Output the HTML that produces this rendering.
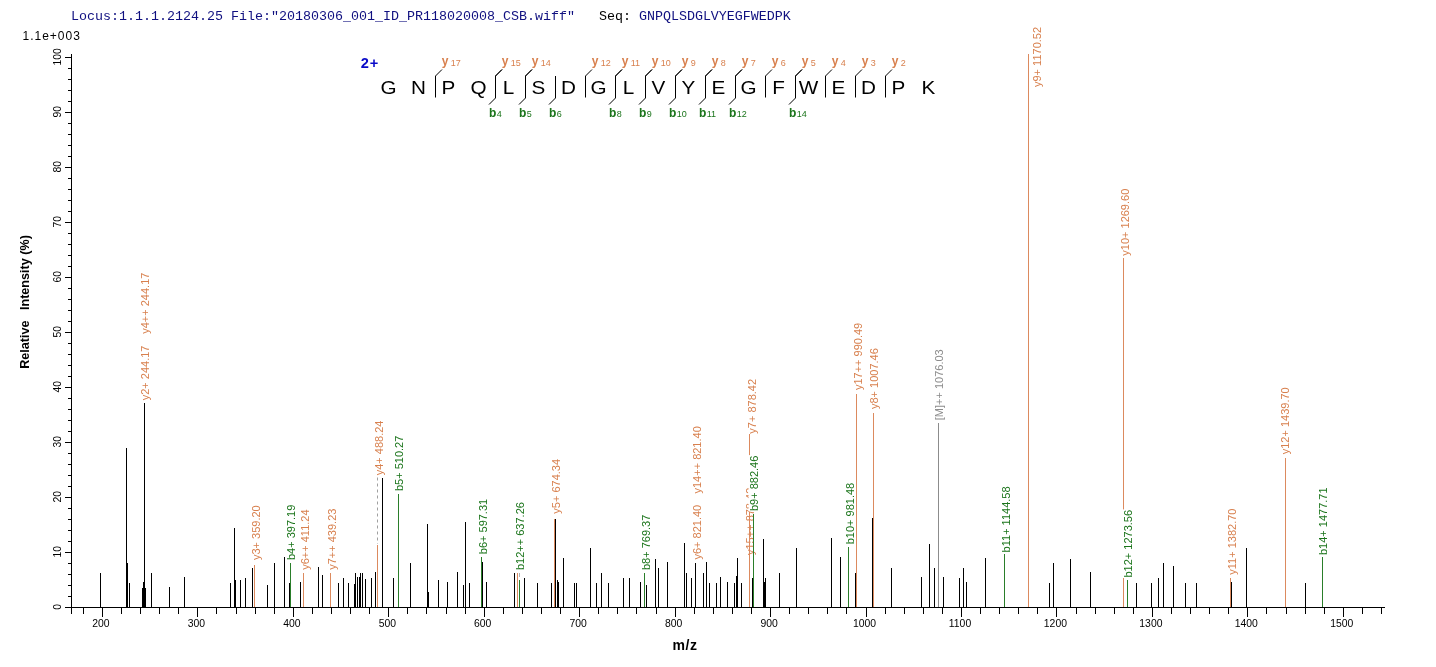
<!DOCTYPE html><html><head><meta charset="utf-8"><style>html,body{margin:0;padding:0;background:#fff;}svg{display:block;will-change:transform;}</style></head><body>
<svg width="1436" height="667" viewBox="0 0 1436 667" font-family="Liberation Sans, sans-serif">
<rect width="1436" height="667" fill="#fff"/>
<text x="71" y="19.5" font-family="Liberation Mono, monospace" font-size="13.333" fill="#101080" xml:space="preserve">Locus:1.1.1.2124.25 File:"20180306_001_ID_PR118020008_CSB.wiff"   <tspan fill="#000">Seq: </tspan>GNPQLSDGLVYEGFWEDPK</text>
<text x="22.5" y="39.6" font-size="12" letter-spacing="1" fill="#000">1.1e+003</text>
<text x="0" y="0" transform="translate(388.5,93.7) scale(1.15,1)" text-anchor="middle" font-size="18" fill="#000">G</text>
<text x="0" y="0" transform="translate(418.5,93.7) scale(1.15,1)" text-anchor="middle" font-size="18" fill="#000">N</text>
<text x="0" y="0" transform="translate(448.5,93.7) scale(1.15,1)" text-anchor="middle" font-size="18" fill="#000">P</text>
<text x="0" y="0" transform="translate(478.5,93.7) scale(1.15,1)" text-anchor="middle" font-size="18" fill="#000">Q</text>
<text x="0" y="0" transform="translate(508.5,93.7) scale(1.15,1)" text-anchor="middle" font-size="18" fill="#000">L</text>
<text x="0" y="0" transform="translate(538.5,93.7) scale(1.15,1)" text-anchor="middle" font-size="18" fill="#000">S</text>
<text x="0" y="0" transform="translate(568.5,93.7) scale(1.15,1)" text-anchor="middle" font-size="18" fill="#000">D</text>
<text x="0" y="0" transform="translate(598.5,93.7) scale(1.15,1)" text-anchor="middle" font-size="18" fill="#000">G</text>
<text x="0" y="0" transform="translate(628.5,93.7) scale(1.15,1)" text-anchor="middle" font-size="18" fill="#000">L</text>
<text x="0" y="0" transform="translate(658.5,93.7) scale(1.15,1)" text-anchor="middle" font-size="18" fill="#000">V</text>
<text x="0" y="0" transform="translate(688.5,93.7) scale(1.15,1)" text-anchor="middle" font-size="18" fill="#000">Y</text>
<text x="0" y="0" transform="translate(718.5,93.7) scale(1.15,1)" text-anchor="middle" font-size="18" fill="#000">E</text>
<text x="0" y="0" transform="translate(748.5,93.7) scale(1.15,1)" text-anchor="middle" font-size="18" fill="#000">G</text>
<text x="0" y="0" transform="translate(778.5,93.7) scale(1.15,1)" text-anchor="middle" font-size="18" fill="#000">F</text>
<text x="0" y="0" transform="translate(808.5,93.7) scale(1.15,1)" text-anchor="middle" font-size="18" fill="#000">W</text>
<text x="0" y="0" transform="translate(838.5,93.7) scale(1.15,1)" text-anchor="middle" font-size="18" fill="#000">E</text>
<text x="0" y="0" transform="translate(868.5,93.7) scale(1.15,1)" text-anchor="middle" font-size="18" fill="#000">D</text>
<text x="0" y="0" transform="translate(898.5,93.7) scale(1.15,1)" text-anchor="middle" font-size="18" fill="#000">P</text>
<text x="0" y="0" transform="translate(928.5,93.7) scale(1.15,1)" text-anchor="middle" font-size="18" fill="#000">K</text>
<path d="M435.5 97.5 V76 L442.0 69.5" fill="none" stroke="#000" stroke-width="1"/>
<text x="441.8" y="65.3" font-size="12" font-weight="bold" fill="#D8804E">y</text>
<text x="450.7" y="65.5" font-size="9" fill="#D8804E">17</text>
<path d="M495.5 97.5 V76 L502.0 69.5" fill="none" stroke="#000" stroke-width="1"/>
<text x="501.8" y="65.3" font-size="12" font-weight="bold" fill="#D8804E">y</text>
<text x="510.7" y="65.5" font-size="9" fill="#D8804E">15</text>
<path d="M525.5 97.5 V76 L532.0 69.5" fill="none" stroke="#000" stroke-width="1"/>
<text x="531.8" y="65.3" font-size="12" font-weight="bold" fill="#D8804E">y</text>
<text x="540.7" y="65.5" font-size="9" fill="#D8804E">14</text>
<path d="M585.5 97.5 V76 L592.0 69.5" fill="none" stroke="#000" stroke-width="1"/>
<text x="591.8" y="65.3" font-size="12" font-weight="bold" fill="#D8804E">y</text>
<text x="600.7" y="65.5" font-size="9" fill="#D8804E">12</text>
<path d="M615.5 97.5 V76 L622.0 69.5" fill="none" stroke="#000" stroke-width="1"/>
<text x="621.8" y="65.3" font-size="12" font-weight="bold" fill="#D8804E">y</text>
<text x="630.7" y="65.5" font-size="9" fill="#D8804E">11</text>
<path d="M645.5 97.5 V76 L652.0 69.5" fill="none" stroke="#000" stroke-width="1"/>
<text x="651.8" y="65.3" font-size="12" font-weight="bold" fill="#D8804E">y</text>
<text x="660.7" y="65.5" font-size="9" fill="#D8804E">10</text>
<path d="M675.5 97.5 V76 L682.0 69.5" fill="none" stroke="#000" stroke-width="1"/>
<text x="681.8" y="65.3" font-size="12" font-weight="bold" fill="#D8804E">y</text>
<text x="690.7" y="65.5" font-size="9" fill="#D8804E">9</text>
<path d="M705.5 97.5 V76 L712.0 69.5" fill="none" stroke="#000" stroke-width="1"/>
<text x="711.8" y="65.3" font-size="12" font-weight="bold" fill="#D8804E">y</text>
<text x="720.7" y="65.5" font-size="9" fill="#D8804E">8</text>
<path d="M735.5 97.5 V76 L742.0 69.5" fill="none" stroke="#000" stroke-width="1"/>
<text x="741.8" y="65.3" font-size="12" font-weight="bold" fill="#D8804E">y</text>
<text x="750.7" y="65.5" font-size="9" fill="#D8804E">7</text>
<path d="M765.5 97.5 V76 L772.0 69.5" fill="none" stroke="#000" stroke-width="1"/>
<text x="771.8" y="65.3" font-size="12" font-weight="bold" fill="#D8804E">y</text>
<text x="780.7" y="65.5" font-size="9" fill="#D8804E">6</text>
<path d="M795.5 97.5 V76 L802.0 69.5" fill="none" stroke="#000" stroke-width="1"/>
<text x="801.8" y="65.3" font-size="12" font-weight="bold" fill="#D8804E">y</text>
<text x="810.7" y="65.5" font-size="9" fill="#D8804E">5</text>
<path d="M825.5 97.5 V76 L832.0 69.5" fill="none" stroke="#000" stroke-width="1"/>
<text x="831.8" y="65.3" font-size="12" font-weight="bold" fill="#D8804E">y</text>
<text x="840.7" y="65.5" font-size="9" fill="#D8804E">4</text>
<path d="M855.5 97.5 V76 L862.0 69.5" fill="none" stroke="#000" stroke-width="1"/>
<text x="861.8" y="65.3" font-size="12" font-weight="bold" fill="#D8804E">y</text>
<text x="870.7" y="65.5" font-size="9" fill="#D8804E">3</text>
<path d="M885.5 97.5 V76 L892.0 69.5" fill="none" stroke="#000" stroke-width="1"/>
<text x="891.8" y="65.3" font-size="12" font-weight="bold" fill="#D8804E">y</text>
<text x="900.7" y="65.5" font-size="9" fill="#D8804E">2</text>
<path d="M502.0 69.5 L495.5 76 V98 L489.0 104.5" fill="none" stroke="#000" stroke-width="1"/>
<text x="488.9" y="116.8" font-size="12" font-weight="bold" fill="#1A741A">b</text>
<text x="496.7" y="116.5" font-size="9" fill="#1A741A">4</text>
<path d="M532.0 69.5 L525.5 76 V98 L519.0 104.5" fill="none" stroke="#000" stroke-width="1"/>
<text x="518.9" y="116.8" font-size="12" font-weight="bold" fill="#1A741A">b</text>
<text x="526.7" y="116.5" font-size="9" fill="#1A741A">5</text>
<path d="M555.5 76 V98 L549.0 104.5" fill="none" stroke="#000" stroke-width="1"/>
<text x="548.9" y="116.8" font-size="12" font-weight="bold" fill="#1A741A">b</text>
<text x="556.7" y="116.5" font-size="9" fill="#1A741A">6</text>
<path d="M622.0 69.5 L615.5 76 V98 L609.0 104.5" fill="none" stroke="#000" stroke-width="1"/>
<text x="608.9" y="116.8" font-size="12" font-weight="bold" fill="#1A741A">b</text>
<text x="616.7" y="116.5" font-size="9" fill="#1A741A">8</text>
<path d="M652.0 69.5 L645.5 76 V98 L639.0 104.5" fill="none" stroke="#000" stroke-width="1"/>
<text x="638.9" y="116.8" font-size="12" font-weight="bold" fill="#1A741A">b</text>
<text x="646.7" y="116.5" font-size="9" fill="#1A741A">9</text>
<path d="M682.0 69.5 L675.5 76 V98 L669.0 104.5" fill="none" stroke="#000" stroke-width="1"/>
<text x="668.9" y="116.8" font-size="12" font-weight="bold" fill="#1A741A">b</text>
<text x="676.7" y="116.5" font-size="9" fill="#1A741A">10</text>
<path d="M712.0 69.5 L705.5 76 V98 L699.0 104.5" fill="none" stroke="#000" stroke-width="1"/>
<text x="698.9" y="116.8" font-size="12" font-weight="bold" fill="#1A741A">b</text>
<text x="706.7" y="116.5" font-size="9" fill="#1A741A">11</text>
<path d="M742.0 69.5 L735.5 76 V98 L729.0 104.5" fill="none" stroke="#000" stroke-width="1"/>
<text x="728.9" y="116.8" font-size="12" font-weight="bold" fill="#1A741A">b</text>
<text x="736.7" y="116.5" font-size="9" fill="#1A741A">12</text>
<path d="M802.0 69.5 L795.5 76 V98 L789.0 104.5" fill="none" stroke="#000" stroke-width="1"/>
<text x="788.9" y="116.8" font-size="12" font-weight="bold" fill="#1A741A">b</text>
<text x="796.7" y="116.5" font-size="9" fill="#1A741A">14</text>
<text x="360.8" y="67.8" font-size="14.6" font-weight="bold" letter-spacing="0.8" fill="#0A0AC8">2+</text>
<rect x="65" y="607" width="1320" height="1" fill="#000"/>
<rect x="71" y="54" width="1" height="560" fill="#000"/>
<rect x="65" y="607" width="6" height="1" fill="#000"/>
<rect x="68" y="596" width="3" height="1" fill="#000"/>
<rect x="68" y="585" width="3" height="1" fill="#000"/>
<rect x="68" y="574" width="3" height="1" fill="#000"/>
<rect x="68" y="563" width="3" height="1" fill="#000"/>
<rect x="65" y="552" width="6" height="1" fill="#000"/>
<rect x="68" y="541" width="3" height="1" fill="#000"/>
<rect x="68" y="530" width="3" height="1" fill="#000"/>
<rect x="68" y="519" width="3" height="1" fill="#000"/>
<rect x="68" y="508" width="3" height="1" fill="#000"/>
<rect x="65" y="497" width="6" height="1" fill="#000"/>
<rect x="68" y="486" width="3" height="1" fill="#000"/>
<rect x="68" y="475" width="3" height="1" fill="#000"/>
<rect x="68" y="464" width="3" height="1" fill="#000"/>
<rect x="68" y="453" width="3" height="1" fill="#000"/>
<rect x="65" y="442" width="6" height="1" fill="#000"/>
<rect x="68" y="431" width="3" height="1" fill="#000"/>
<rect x="68" y="420" width="3" height="1" fill="#000"/>
<rect x="68" y="409" width="3" height="1" fill="#000"/>
<rect x="68" y="398" width="3" height="1" fill="#000"/>
<rect x="65" y="387" width="6" height="1" fill="#000"/>
<rect x="68" y="376" width="3" height="1" fill="#000"/>
<rect x="68" y="365" width="3" height="1" fill="#000"/>
<rect x="68" y="354" width="3" height="1" fill="#000"/>
<rect x="68" y="343" width="3" height="1" fill="#000"/>
<rect x="65" y="332" width="6" height="1" fill="#000"/>
<rect x="68" y="321" width="3" height="1" fill="#000"/>
<rect x="68" y="310" width="3" height="1" fill="#000"/>
<rect x="68" y="299" width="3" height="1" fill="#000"/>
<rect x="68" y="288" width="3" height="1" fill="#000"/>
<rect x="65" y="277" width="6" height="1" fill="#000"/>
<rect x="68" y="266" width="3" height="1" fill="#000"/>
<rect x="68" y="255" width="3" height="1" fill="#000"/>
<rect x="68" y="244" width="3" height="1" fill="#000"/>
<rect x="68" y="233" width="3" height="1" fill="#000"/>
<rect x="65" y="222" width="6" height="1" fill="#000"/>
<rect x="68" y="211" width="3" height="1" fill="#000"/>
<rect x="68" y="200" width="3" height="1" fill="#000"/>
<rect x="68" y="189" width="3" height="1" fill="#000"/>
<rect x="68" y="178" width="3" height="1" fill="#000"/>
<rect x="65" y="167" width="6" height="1" fill="#000"/>
<rect x="68" y="156" width="3" height="1" fill="#000"/>
<rect x="68" y="145" width="3" height="1" fill="#000"/>
<rect x="68" y="134" width="3" height="1" fill="#000"/>
<rect x="68" y="123" width="3" height="1" fill="#000"/>
<rect x="65" y="112" width="6" height="1" fill="#000"/>
<rect x="68" y="101" width="3" height="1" fill="#000"/>
<rect x="68" y="90" width="3" height="1" fill="#000"/>
<rect x="68" y="79" width="3" height="1" fill="#000"/>
<rect x="68" y="68" width="3" height="1" fill="#000"/>
<rect x="65" y="57" width="6" height="1" fill="#000"/>
<rect x="83" y="608" width="1" height="6" fill="#000"/>
<rect x="102" y="608" width="1" height="9" fill="#000"/>
<rect x="121" y="608" width="1" height="6" fill="#000"/>
<rect x="140" y="608" width="1" height="6" fill="#000"/>
<rect x="159" y="608" width="1" height="6" fill="#000"/>
<rect x="178" y="608" width="1" height="6" fill="#000"/>
<rect x="197" y="608" width="1" height="9" fill="#000"/>
<rect x="216" y="608" width="1" height="6" fill="#000"/>
<rect x="236" y="608" width="1" height="6" fill="#000"/>
<rect x="255" y="608" width="1" height="6" fill="#000"/>
<rect x="274" y="608" width="1" height="6" fill="#000"/>
<rect x="293" y="608" width="1" height="9" fill="#000"/>
<rect x="312" y="608" width="1" height="6" fill="#000"/>
<rect x="331" y="608" width="1" height="6" fill="#000"/>
<rect x="350" y="608" width="1" height="6" fill="#000"/>
<rect x="369" y="608" width="1" height="6" fill="#000"/>
<rect x="388" y="608" width="1" height="9" fill="#000"/>
<rect x="407" y="608" width="1" height="6" fill="#000"/>
<rect x="426" y="608" width="1" height="6" fill="#000"/>
<rect x="446" y="608" width="1" height="6" fill="#000"/>
<rect x="465" y="608" width="1" height="6" fill="#000"/>
<rect x="484" y="608" width="1" height="9" fill="#000"/>
<rect x="503" y="608" width="1" height="6" fill="#000"/>
<rect x="522" y="608" width="1" height="6" fill="#000"/>
<rect x="541" y="608" width="1" height="6" fill="#000"/>
<rect x="560" y="608" width="1" height="6" fill="#000"/>
<rect x="579" y="608" width="1" height="9" fill="#000"/>
<rect x="598" y="608" width="1" height="6" fill="#000"/>
<rect x="617" y="608" width="1" height="6" fill="#000"/>
<rect x="636" y="608" width="1" height="6" fill="#000"/>
<rect x="656" y="608" width="1" height="6" fill="#000"/>
<rect x="675" y="608" width="1" height="9" fill="#000"/>
<rect x="694" y="608" width="1" height="6" fill="#000"/>
<rect x="713" y="608" width="1" height="6" fill="#000"/>
<rect x="732" y="608" width="1" height="6" fill="#000"/>
<rect x="751" y="608" width="1" height="6" fill="#000"/>
<rect x="770" y="608" width="1" height="9" fill="#000"/>
<rect x="789" y="608" width="1" height="6" fill="#000"/>
<rect x="808" y="608" width="1" height="6" fill="#000"/>
<rect x="827" y="608" width="1" height="6" fill="#000"/>
<rect x="846" y="608" width="1" height="6" fill="#000"/>
<rect x="866" y="608" width="1" height="9" fill="#000"/>
<rect x="885" y="608" width="1" height="6" fill="#000"/>
<rect x="904" y="608" width="1" height="6" fill="#000"/>
<rect x="923" y="608" width="1" height="6" fill="#000"/>
<rect x="942" y="608" width="1" height="6" fill="#000"/>
<rect x="961" y="608" width="1" height="9" fill="#000"/>
<rect x="980" y="608" width="1" height="6" fill="#000"/>
<rect x="999" y="608" width="1" height="6" fill="#000"/>
<rect x="1018" y="608" width="1" height="6" fill="#000"/>
<rect x="1037" y="608" width="1" height="6" fill="#000"/>
<rect x="1056" y="608" width="1" height="9" fill="#000"/>
<rect x="1076" y="608" width="1" height="6" fill="#000"/>
<rect x="1095" y="608" width="1" height="6" fill="#000"/>
<rect x="1114" y="608" width="1" height="6" fill="#000"/>
<rect x="1133" y="608" width="1" height="6" fill="#000"/>
<rect x="1152" y="608" width="1" height="9" fill="#000"/>
<rect x="1171" y="608" width="1" height="6" fill="#000"/>
<rect x="1190" y="608" width="1" height="6" fill="#000"/>
<rect x="1209" y="608" width="1" height="6" fill="#000"/>
<rect x="1228" y="608" width="1" height="6" fill="#000"/>
<rect x="1247" y="608" width="1" height="9" fill="#000"/>
<rect x="1266" y="608" width="1" height="6" fill="#000"/>
<rect x="1286" y="608" width="1" height="6" fill="#000"/>
<rect x="1305" y="608" width="1" height="6" fill="#000"/>
<rect x="1324" y="608" width="1" height="6" fill="#000"/>
<rect x="1343" y="608" width="1" height="9" fill="#000"/>
<rect x="1362" y="608" width="1" height="6" fill="#000"/>
<rect x="1381" y="608" width="1" height="6" fill="#000"/>
<text x="100.9" y="627.3" text-anchor="middle" font-size="10.4" fill="#000">200</text>
<text x="196.4" y="627.3" text-anchor="middle" font-size="10.4" fill="#000">300</text>
<text x="291.8" y="627.3" text-anchor="middle" font-size="10.4" fill="#000">400</text>
<text x="387.3" y="627.3" text-anchor="middle" font-size="10.4" fill="#000">500</text>
<text x="482.7" y="627.3" text-anchor="middle" font-size="10.4" fill="#000">600</text>
<text x="578.2" y="627.3" text-anchor="middle" font-size="10.4" fill="#000">700</text>
<text x="673.6" y="627.3" text-anchor="middle" font-size="10.4" fill="#000">800</text>
<text x="769.1" y="627.3" text-anchor="middle" font-size="10.4" fill="#000">900</text>
<text x="864.5" y="627.3" text-anchor="middle" font-size="10.4" fill="#000">1000</text>
<text x="960.0" y="627.3" text-anchor="middle" font-size="10.4" fill="#000">1100</text>
<text x="1055.4" y="627.3" text-anchor="middle" font-size="10.4" fill="#000">1200</text>
<text x="1150.9" y="627.3" text-anchor="middle" font-size="10.4" fill="#000">1300</text>
<text x="1246.3" y="627.3" text-anchor="middle" font-size="10.4" fill="#000">1400</text>
<text x="1341.8" y="627.3" text-anchor="middle" font-size="10.4" fill="#000">1500</text>
<text transform="translate(61,606.8) rotate(-90)" text-anchor="middle" font-size="10.4" fill="#000">0</text>
<text transform="translate(61,551.8) rotate(-90)" text-anchor="middle" font-size="10.4" fill="#000">10</text>
<text transform="translate(61,496.8) rotate(-90)" text-anchor="middle" font-size="10.4" fill="#000">20</text>
<text transform="translate(61,441.8) rotate(-90)" text-anchor="middle" font-size="10.4" fill="#000">30</text>
<text transform="translate(61,386.8) rotate(-90)" text-anchor="middle" font-size="10.4" fill="#000">40</text>
<text transform="translate(61,331.8) rotate(-90)" text-anchor="middle" font-size="10.4" fill="#000">50</text>
<text transform="translate(61,276.8) rotate(-90)" text-anchor="middle" font-size="10.4" fill="#000">60</text>
<text transform="translate(61,221.8) rotate(-90)" text-anchor="middle" font-size="10.4" fill="#000">70</text>
<text transform="translate(61,166.8) rotate(-90)" text-anchor="middle" font-size="10.4" fill="#000">80</text>
<text transform="translate(61,111.8) rotate(-90)" text-anchor="middle" font-size="10.4" fill="#000">90</text>
<text transform="translate(61,56.8) rotate(-90)" text-anchor="middle" font-size="10.4" fill="#000">100</text>
<text transform="translate(28.9,302) rotate(-90)" text-anchor="middle" font-size="12.6" font-weight="bold" fill="#000" xml:space="preserve">Relative   Intensity (%)</text>
<text x="685" y="650" text-anchor="middle" font-size="14" font-weight="bold" fill="#000" letter-spacing="0.5">m/z</text>
<rect x="100" y="573" width="1" height="34" fill="#000"/>
<rect x="126" y="448" width="1" height="159" fill="#000"/>
<rect x="127" y="563" width="1" height="44" fill="#000"/>
<rect x="129" y="583" width="1" height="24" fill="#000"/>
<rect x="142" y="588" width="1" height="19" fill="#000"/>
<rect x="143" y="582" width="1" height="25" fill="#000"/>
<rect x="144" y="403" width="1" height="204" fill="#000"/>
<rect x="145" y="588" width="1" height="19" fill="#000"/>
<rect x="151" y="573" width="1" height="34" fill="#000"/>
<rect x="169" y="587" width="1" height="20" fill="#000"/>
<rect x="184" y="577" width="1" height="30" fill="#000"/>
<rect x="230" y="583" width="1" height="24" fill="#000"/>
<rect x="234" y="528" width="1" height="79" fill="#000"/>
<rect x="235" y="580" width="1" height="27" fill="#000"/>
<rect x="240" y="580" width="1" height="27" fill="#000"/>
<rect x="245" y="578" width="1" height="29" fill="#000"/>
<rect x="252" y="568" width="1" height="39" fill="#000"/>
<rect x="267" y="585" width="1" height="22" fill="#000"/>
<rect x="274" y="563" width="1" height="44" fill="#000"/>
<rect x="284" y="557" width="1" height="50" fill="#000"/>
<rect x="289" y="583" width="1" height="24" fill="#000"/>
<rect x="300" y="582" width="1" height="25" fill="#000"/>
<rect x="318" y="567" width="1" height="40" fill="#000"/>
<rect x="322" y="575" width="1" height="32" fill="#000"/>
<rect x="338" y="583" width="1" height="24" fill="#000"/>
<rect x="343" y="578" width="1" height="29" fill="#000"/>
<rect x="348" y="583" width="1" height="24" fill="#000"/>
<rect x="354" y="584" width="1" height="23" fill="#000"/>
<rect x="355" y="573" width="1" height="34" fill="#000"/>
<rect x="357" y="577" width="1" height="30" fill="#000"/>
<rect x="359" y="577" width="1" height="30" fill="#000"/>
<rect x="360" y="573" width="1" height="34" fill="#000"/>
<rect x="362" y="573" width="1" height="34" fill="#000"/>
<rect x="365" y="579" width="1" height="28" fill="#000"/>
<rect x="371" y="578" width="1" height="29" fill="#000"/>
<rect x="375" y="572" width="1" height="35" fill="#000"/>
<rect x="382" y="478" width="1" height="129" fill="#000"/>
<rect x="393" y="578" width="1" height="29" fill="#000"/>
<rect x="410" y="563" width="1" height="44" fill="#000"/>
<rect x="427" y="524" width="1" height="83" fill="#000"/>
<rect x="428" y="592" width="1" height="15" fill="#000"/>
<rect x="438" y="580" width="1" height="27" fill="#000"/>
<rect x="447" y="582" width="1" height="25" fill="#000"/>
<rect x="457" y="572" width="1" height="35" fill="#000"/>
<rect x="463" y="585" width="1" height="22" fill="#000"/>
<rect x="465" y="522" width="1" height="85" fill="#000"/>
<rect x="469" y="583" width="1" height="24" fill="#000"/>
<rect x="482" y="562" width="1" height="45" fill="#000"/>
<rect x="486" y="582" width="1" height="25" fill="#000"/>
<rect x="514" y="573" width="1" height="34" fill="#000"/>
<rect x="524" y="578" width="1" height="29" fill="#000"/>
<rect x="537" y="583" width="1" height="24" fill="#000"/>
<rect x="551" y="583" width="1" height="24" fill="#000"/>
<rect x="555" y="519" width="1" height="88" fill="#000"/>
<rect x="557" y="580" width="1" height="27" fill="#000"/>
<rect x="558" y="582" width="1" height="25" fill="#000"/>
<rect x="563" y="558" width="1" height="49" fill="#000"/>
<rect x="574" y="583" width="1" height="24" fill="#000"/>
<rect x="576" y="583" width="1" height="24" fill="#000"/>
<rect x="590" y="548" width="1" height="59" fill="#000"/>
<rect x="596" y="583" width="1" height="24" fill="#000"/>
<rect x="601" y="573" width="1" height="34" fill="#000"/>
<rect x="608" y="583" width="1" height="24" fill="#000"/>
<rect x="623" y="578" width="1" height="29" fill="#000"/>
<rect x="629" y="578" width="1" height="29" fill="#000"/>
<rect x="640" y="582" width="1" height="25" fill="#000"/>
<rect x="644" y="583" width="1" height="24" fill="#000"/>
<rect x="646" y="585" width="1" height="22" fill="#000"/>
<rect x="655" y="559" width="1" height="48" fill="#000"/>
<rect x="658" y="568" width="1" height="39" fill="#000"/>
<rect x="667" y="562" width="1" height="45" fill="#000"/>
<rect x="684" y="543" width="1" height="64" fill="#000"/>
<rect x="686" y="573" width="1" height="34" fill="#000"/>
<rect x="691" y="578" width="1" height="29" fill="#000"/>
<rect x="695" y="563" width="1" height="44" fill="#000"/>
<rect x="703" y="573" width="1" height="34" fill="#000"/>
<rect x="706" y="562" width="1" height="45" fill="#000"/>
<rect x="709" y="583" width="1" height="24" fill="#000"/>
<rect x="716" y="583" width="1" height="24" fill="#000"/>
<rect x="720" y="577" width="1" height="30" fill="#000"/>
<rect x="727" y="582" width="1" height="25" fill="#000"/>
<rect x="734" y="583" width="1" height="24" fill="#000"/>
<rect x="736" y="576" width="1" height="31" fill="#000"/>
<rect x="737" y="558" width="1" height="49" fill="#000"/>
<rect x="741" y="583" width="1" height="24" fill="#000"/>
<rect x="752" y="578" width="1" height="29" fill="#000"/>
<rect x="763" y="539" width="1" height="68" fill="#000"/>
<rect x="764" y="582" width="1" height="25" fill="#000"/>
<rect x="765" y="578" width="1" height="29" fill="#000"/>
<rect x="779" y="573" width="1" height="34" fill="#000"/>
<rect x="796" y="548" width="1" height="59" fill="#000"/>
<rect x="831" y="538" width="1" height="69" fill="#000"/>
<rect x="840" y="557" width="1" height="50" fill="#000"/>
<rect x="855" y="573" width="1" height="34" fill="#000"/>
<rect x="872" y="518" width="1" height="89" fill="#000"/>
<rect x="891" y="568" width="1" height="39" fill="#000"/>
<rect x="921" y="577" width="1" height="30" fill="#000"/>
<rect x="929" y="544" width="1" height="63" fill="#000"/>
<rect x="934" y="568" width="1" height="39" fill="#000"/>
<rect x="943" y="577" width="1" height="30" fill="#000"/>
<rect x="959" y="578" width="1" height="29" fill="#000"/>
<rect x="963" y="568" width="1" height="39" fill="#000"/>
<rect x="966" y="582" width="1" height="25" fill="#000"/>
<rect x="985" y="558" width="1" height="49" fill="#000"/>
<rect x="1049" y="583" width="1" height="24" fill="#000"/>
<rect x="1053" y="563" width="1" height="44" fill="#000"/>
<rect x="1070" y="559" width="1" height="48" fill="#000"/>
<rect x="1090" y="572" width="1" height="35" fill="#000"/>
<rect x="1136" y="583" width="1" height="24" fill="#000"/>
<rect x="1151" y="583" width="1" height="24" fill="#000"/>
<rect x="1158" y="578" width="1" height="29" fill="#000"/>
<rect x="1163" y="563" width="1" height="44" fill="#000"/>
<rect x="1173" y="566" width="1" height="41" fill="#000"/>
<rect x="1185" y="583" width="1" height="24" fill="#000"/>
<rect x="1196" y="583" width="1" height="24" fill="#000"/>
<rect x="1231" y="582" width="1" height="25" fill="#000"/>
<rect x="1246" y="548" width="1" height="59" fill="#000"/>
<rect x="1305" y="583" width="1" height="24" fill="#000"/>
<rect x="140.1" y="345.1" width="10.9" height="55.7" fill="#fff"/>
<rect x="140.1" y="272.1" width="10.9" height="62.2" fill="#fff"/>
<rect x="251.6" y="504.8" width="10.9" height="55.7" fill="#fff"/>
<rect x="286.1" y="504.1" width="10.9" height="56.4" fill="#fff"/>
<rect x="299.8" y="508.1" width="10.9" height="62.2" fill="#fff"/>
<rect x="326.7" y="508.1" width="10.9" height="62.2" fill="#fff"/>
<rect x="374.3" y="420.1" width="10.9" height="55.7" fill="#fff"/>
<rect x="394.5" y="435.1" width="10.9" height="56.4" fill="#fff"/>
<rect x="478.1" y="498.3" width="10.9" height="56.4" fill="#fff"/>
<rect x="514.9" y="501.6" width="10.9" height="68.9" fill="#fff"/>
<rect x="550.8" y="458.5" width="10.9" height="55.7" fill="#fff"/>
<rect x="641.1" y="514.1" width="10.9" height="56.4" fill="#fff"/>
<rect x="691.8" y="504.3" width="10.9" height="55.7" fill="#fff"/>
<rect x="692.4" y="425.7" width="10.9" height="68.3" fill="#fff"/>
<rect x="746.9" y="378.5" width="10.9" height="55.7" fill="#fff"/>
<rect x="749.6" y="455.1" width="10.9" height="56.4" fill="#fff"/>
<rect x="845.0" y="482.3" width="10.9" height="62.5" fill="#fff"/>
<rect x="852.9" y="322.3" width="10.9" height="68.3" fill="#fff"/>
<rect x="868.8" y="347.6" width="10.9" height="61.9" fill="#fff"/>
<rect x="934.6" y="348.8" width="10.9" height="71.9" fill="#fff"/>
<rect x="1001.0" y="484.3" width="10.9" height="68.6" fill="#fff"/>
<rect x="1032.4" y="25.6" width="10.9" height="61.9" fill="#fff"/>
<rect x="1119.8" y="188.2" width="10.9" height="68.0" fill="#fff"/>
<rect x="1123.1" y="509.4" width="10.9" height="68.6" fill="#fff"/>
<rect x="1227.1" y="507.2" width="10.9" height="68.0" fill="#fff"/>
<rect x="1280.6" y="386.8" width="10.9" height="68.0" fill="#fff"/>
<rect x="1318.6" y="486.9" width="10.9" height="68.6" fill="#fff"/>
<rect x="254" y="565" width="1" height="42" fill="#DC8A5E"/>
<rect x="290" y="563" width="1" height="44" fill="#2A7E2A"/>
<rect x="303" y="573" width="1" height="34" fill="#DC8A5E"/>
<rect x="330" y="573" width="1" height="34" fill="#DC8A5E"/>
<rect x="377" y="545" width="1" height="62" fill="#DC8A5E"/>
<rect x="398" y="494" width="1" height="113" fill="#2A7E2A"/>
<rect x="481" y="557" width="1" height="50" fill="#2A7E2A"/>
<rect x="517" y="573" width="1" height="34" fill="#DC8A5E"/>
<rect x="554" y="519" width="1" height="88" fill="#DC8A5E"/>
<rect x="519" y="580" width="1" height="27" fill="#2A7E2A"/>
<rect x="644" y="573" width="1" height="34" fill="#2A7E2A"/>
<rect x="749" y="434" width="1" height="173" fill="#DC8A5E"/>
<rect x="753" y="514" width="1" height="93" fill="#2A7E2A"/>
<rect x="848" y="547" width="1" height="60" fill="#2A7E2A"/>
<rect x="856" y="394" width="1" height="213" fill="#DC8A5E"/>
<rect x="873" y="413" width="1" height="194" fill="#DC8A5E"/>
<rect x="938" y="423" width="1" height="184" fill="#8C8C8C"/>
<rect x="1004" y="554" width="1" height="53" fill="#2A7E2A"/>
<rect x="1028" y="54" width="1" height="553" fill="#DC8A5E"/>
<rect x="1123" y="258" width="1" height="349" fill="#DC8A5E"/>
<rect x="1127" y="580" width="1" height="27" fill="#2A7E2A"/>
<rect x="1230" y="578" width="1" height="29" fill="#DC8A5E"/>
<rect x="1285" y="458" width="1" height="149" fill="#DC8A5E"/>
<rect x="1322" y="557" width="1" height="50" fill="#2A7E2A"/>
<text transform="translate(754.4,555) rotate(-90)" font-size="11" fill="#D8804E">y15++ 878.42</text>
<rect x="513.9" y="501.6" width="11.9" height="68.9" fill="#fff"/>
<rect x="748.6" y="455.1" width="11.9" height="56.4" fill="#fff"/>
<rect x="1122.1" y="509.4" width="11.9" height="68.6" fill="#fff"/>
<rect x="519" y="573" width="1" height="4" fill="#B0B0B0"/>
<line x1="377.5" y1="477.5" x2="377.5" y2="544" stroke="#A0A0A0" stroke-width="1" stroke-dasharray="3,3"/>
<text transform="translate(148.9,400.3) rotate(-90)" font-size="11" fill="#D8804E">y2+ 244.17</text>
<text transform="translate(148.9,333.8) rotate(-90)" font-size="11" fill="#D8804E">y4++ 244.17</text>
<text transform="translate(260.4,560.0) rotate(-90)" font-size="11" fill="#D8804E">y3+ 359.20</text>
<text transform="translate(294.9,560.0) rotate(-90)" font-size="11" fill="#1A741A">b4+ 397.19</text>
<text transform="translate(308.6,569.8) rotate(-90)" font-size="11" fill="#D8804E">y6++ 411.24</text>
<text transform="translate(335.5,569.8) rotate(-90)" font-size="11" fill="#D8804E">y7++ 439.23</text>
<text transform="translate(383.1,475.3) rotate(-90)" font-size="11" fill="#D8804E">y4+ 488.24</text>
<text transform="translate(403.3,491.0) rotate(-90)" font-size="11" fill="#1A741A">b5+ 510.27</text>
<text transform="translate(486.9,554.2) rotate(-90)" font-size="11" fill="#1A741A">b6+ 597.31</text>
<text transform="translate(523.7,570.0) rotate(-90)" font-size="11" fill="#1A741A">b12++ 637.26</text>
<text transform="translate(559.6,513.7) rotate(-90)" font-size="11" fill="#D8804E">y5+ 674.34</text>
<text transform="translate(649.9,570.0) rotate(-90)" font-size="11" fill="#1A741A">b8+ 769.37</text>
<text transform="translate(700.6,559.5) rotate(-90)" font-size="11" fill="#D8804E">y6+ 821.40</text>
<text transform="translate(701.2,493.5) rotate(-90)" font-size="11" fill="#D8804E">y14++ 821.40</text>
<text transform="translate(755.7,433.7) rotate(-90)" font-size="11" fill="#D8804E">y7+ 878.42</text>
<text transform="translate(758.4,511.0) rotate(-90)" font-size="11" fill="#1A741A">b9+ 882.46</text>
<text transform="translate(853.8,544.3) rotate(-90)" font-size="11" fill="#1A741A">b10+ 981.48</text>
<text transform="translate(861.7,390.1) rotate(-90)" font-size="11" fill="#D8804E">y17++ 990.49</text>
<text transform="translate(877.6,409.0) rotate(-90)" font-size="11" fill="#D8804E">y8+ 1007.46</text>
<text transform="translate(943.4,420.2) rotate(-90)" font-size="11" fill="#8C8C8C">[M]++ 1076.03</text>
<text transform="translate(1009.8,552.4) rotate(-90)" font-size="11" fill="#1A741A">b11+ 1144.58</text>
<text transform="translate(1041.2,87.0) rotate(-90)" font-size="11" fill="#D8804E">y9+ 1170.52</text>
<text transform="translate(1128.6,255.7) rotate(-90)" font-size="11" fill="#D8804E">y10+ 1269.60</text>
<text transform="translate(1131.9,577.5) rotate(-90)" font-size="11" fill="#1A741A">b12+ 1273.56</text>
<text transform="translate(1235.9,574.7) rotate(-90)" font-size="11" fill="#D8804E">y11+ 1382.70</text>
<text transform="translate(1289.4,454.3) rotate(-90)" font-size="11" fill="#D8804E">y12+ 1439.70</text>
<text transform="translate(1327.4,555.0) rotate(-90)" font-size="11" fill="#1A741A">b14+ 1477.71</text>
<rect x="749" y="514" width="1" height="93" fill="#DC8A5E"/>
<rect x="753" y="514" width="1" height="93" fill="#2A7E2A"/>
</svg></body></html>
